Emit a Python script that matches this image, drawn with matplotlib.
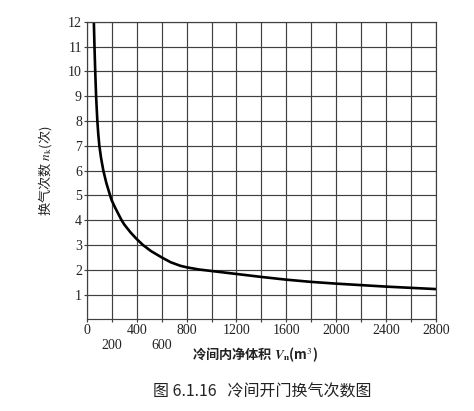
import matplotlib
matplotlib.use("Agg")
import matplotlib.pyplot as plt
import numpy as np

# values (V in m3, n in air changes)
volume = [57, 62, 68, 75, 85, 92, 101, 115, 133, 157, 187, 200, 228, 279, 300,
          352, 400, 450, 516, 600, 674, 750, 800, 900, 1000, 1200, 1400, 1600,
          1800, 2000, 2200, 2400, 2600, 2800]
changes = [12, 11, 10, 9, 8, 7.5, 7, 6.5, 6, 5.5, 5, 4.8, 4.5, 4, 3.83,
           3.5, 3.24, 3, 2.75, 2.5, 2.3, 2.16, 2.1, 2.01, 1.95, 1.83, 1.71, 1.6,
           1.51, 1.44, 1.38, 1.32, 1.27, 1.22]

x_ticks = list(range(0, 2801, 200))
x_labels = ['0', '\n200', '400', '\n600', '800', '', '1200', '', '1600', '',
            '2000', '', '2400', '', '2800']
y_ticks = list(range(1, 13))

cjk = ['Noto Sans CJK SC', 'DejaVu Sans']
plt.rcParams['mathtext.fontset'] = 'stix'

fig = plt.figure(figsize=(4.74, 4.11), dpi=100)
ax = fig.add_axes([0.183, 0.223, 0.737, 0.724])

ax.plot(volume, changes, color='black', linewidth=1.9, solid_joinstyle='round')

ax.set_xlim(0, 2800)
ax.set_ylim(0, 12)
ax.set_xticks(x_ticks)
ax.set_xticklabels(x_labels)
ax.set_yticks(y_ticks)
ax.grid(True, color='#404040', linewidth=0.85)
ax.set_axisbelow(True)
for s in ax.spines.values():
    s.set_color('#404040')
    s.set_linewidth(0.85)

ax.tick_params(axis='both', length=2, width=0.85, color='#404040', pad=1.5,
               labelsize=10, labelcolor='#222222')
for lab in ax.get_xticklabels() + ax.get_yticklabels():
    lab.set_family('Liberation Serif')

fig.text(0.095, 0.585, '换气次数 $n_\\mathrm{k}$(次)', rotation=90,
         ha='center', va='center', fontsize=9.5, family=cjk, color='#222222')
fig.text(0.538, 0.136, '冷间内净体积 $\\mathbfit{V}_\\mathbf{n}$(m$^3$)', ha='center',
         va='center', fontsize=9.5, family=cjk, fontweight='bold', color='#222222')
fig.text(0.553, 0.046, '图 6.1.16   冷间开门换气次数图', ha='center', va='center',
         fontsize=11.5, family=cjk, color='#222222')

fig.savefig('out.png', dpi=100, facecolor='white')
